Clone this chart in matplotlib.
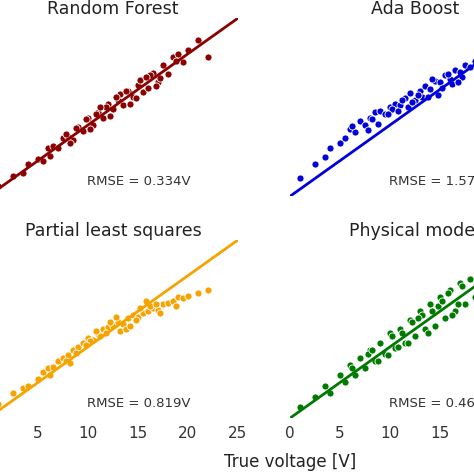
import matplotlib
matplotlib.use("Agg")
import matplotlib.pyplot as plt

titles = ["Random Forest", "Ada Boost", "Partial least squares", "Physical model"]
colors = ["#8b0000", "#0000dd", "#f5a300", "#007a00"]
rmse = ["RMSE = 0.334V", "RMSE = 1.57V", "RMSE = 0.819V", "RMSE = 0.464V"]

true_v = [1.0, 2.5, 3.5, 4.0, 5.0, 5.5, 6.0, 6.5, 7.0, 7.5, 8.0, 8.5, 9.0, 9.5, 10.0, 10.5,
          11.0, 11.5, 12.0, 12.5, 13.0, 13.5, 14.0, 14.5, 15.0, 15.5, 16.0, 16.5, 17.0, 17.5,
          18.0, 18.5, 19.0, 19.5, 20.0, 21.0, 22.0, 6.2, 8.8, 10.2, 11.8, 13.2, 14.8, 16.2,
          7.8, 9.8, 12.2, 13.8, 15.2, 17.2, 11.2, 12.8, 14.2, 15.8, 8.2, 10.8, 16.8, 18.8]
rf_pred = [1.5, 2.8, 3.3, 4.5, 5.2, 5.0, 6.8, 7.0, 6.8, 8.2, 8.3, 7.9, 9.7, 9.2, 11.0, 10.0,
           11.8, 11.0, 12.9, 12.2, 13.5, 12.8, 14.8, 13.9, 15.6, 14.6, 15.2, 17.3, 16.0, 18.5,
           17.2, 19.5, 20.0, 18.8, 20.5, 22.0, 19.5, 5.6, 9.6, 9.5, 12.6, 14.3, 13.8, 17.0,
           8.8, 10.9, 11.3, 14.8, 16.3, 16.6, 12.5, 13.9, 13.0, 16.8, 7.5, 11.6, 15.5, 19.0]
ada_pred = [2.5, 4.5, 5.5, 6.8, 7.5, 8.2, 9.5, 9.0, 10.5, 10.0, 11.0, 11.8, 12.0, 11.5, 12.5, 13.0,
            12.8, 13.8, 14.5, 13.5, 14.8, 15.5, 15.0, 16.2, 16.0, 17.0, 16.5, 17.8, 17.5, 18.5,
            18.2, 19.0, 19.5, 19.0, 20.0, 20.5, 21.0, 9.8, 10.2, 12.2, 12.5, 14.0, 14.2, 15.8,
            9.3, 11.5, 13.2, 14.0, 15.2, 16.8, 13.5, 14.2, 16.5, 17.2, 10.8, 12.0, 16.0, 18.0]
pls_pred = [2.0, 3.5, 4.2, 4.5, 5.5, 6.5, 7.0, 7.2, 8.0, 8.5, 8.8, 9.5, 10.0, 10.5, 11.2, 11.0,
            11.8, 12.5, 12.8, 13.0, 13.5, 13.2, 14.0, 14.5, 14.2, 14.8, 15.0, 15.5, 15.2, 16.0,
            16.2, 16.5, 17.0, 16.8, 17.2, 17.5, 18.0, 6.0, 9.2, 10.8, 12.0, 12.2, 13.8, 15.8,
            8.0, 10.2, 13.5, 12.5, 15.5, 14.8, 11.5, 14.2, 13.0, 16.5, 7.8, 12.2, 16.0, 15.8]
phys_pred = [1.5, 3.0, 4.5, 3.5, 6.0, 5.0, 7.5, 6.0, 8.5, 7.0, 9.5, 8.0, 10.5, 9.0, 12.0, 9.8,
             12.5, 10.5, 13.8, 11.5, 15.0, 12.5, 16.0, 13.0, 17.0, 14.0, 18.0, 15.0, 19.0, 16.0,
             19.5, 17.0, 20.5, 18.0, 21.0, 21.5, 20.5, 7.0, 8.0, 11.5, 10.5, 14.5, 15.8, 14.5,
             9.0, 8.8, 13.5, 12.0, 16.5, 18.5, 12.0, 14.0, 15.0, 17.5, 9.5, 10.0, 16.0, 20.0]
preds = [rf_pred, ada_pred, pls_pred, phys_pred]
xticks = [0, 5, 10, 15, 20, 25]

fig = plt.figure(figsize=(4.74, 4.74), dpi=100)
positions = [(-0.0253, 0.586), (0.612, 0.586), (-0.0253, 0.118), (0.612, 0.118)]
for i in range(4):
    l, b = positions[i]
    ax = fig.add_axes([l, b, 0.527, 0.3755])
    ax.scatter(true_v, preds[i], s=26, color=colors[i], edgecolor="white", linewidth=0.6, zorder=2)
    ax.plot([0, 25], [0, 25], color=colors[i], lw=2, zorder=3)
    ax.set_xlim(0, 25)
    ax.set_ylim(0, 25)
    for s in ax.spines.values():
        s.set_visible(False)
    ax.set_yticks([])
    if i >= 2:
        ax.set_xticks(xticks)
        ax.tick_params(axis="x", length=0, labelsize=11, colors="#333333", pad=6)
    else:
        ax.set_xticks([])
    ax.set_title(titles[i], fontsize=12.5, color="#222222", pad=1)
    ax.text(9.9, 1.6, rmse[i], fontsize=9.5, color="#333333")
fig.text(0.612, 0.015, "True voltage [V]", ha="center", fontsize=12, color="#222222")
fig.savefig("out.png", dpi=100)
